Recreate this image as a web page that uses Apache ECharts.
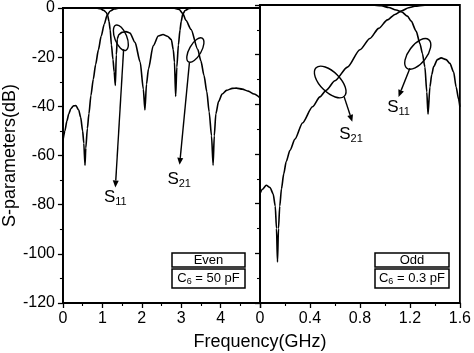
<!DOCTYPE html>
<html>
<head>
<meta charset="utf-8">
<script src="https://cdn.jsdelivr.net/npm/echarts@6/dist/echarts.min.js"></script>
<style>
  html, body { margin: 0; padding: 0; background: #fff; }
  #chart { width: 474px; height: 353px; }
</style>
</head>
<body>
<div id="chart"></div>
<script>
// tick labels
const evenTicks = [0, 1, 2, 3, 4];
const oddTicks = [0, 0.4, 0.8, 1.2, 1.6];
const dbTicks = [0, -20, -40, -60, -80, -100, -120];

// Even mode, C6 = 50 pF  [GHz, dB]
const evenS21 = [
  [0, -54], [0.05, -50], [0.1, -46], [0.15, -43], [0.2, -41], [0.27, -39.8], [0.33, -39.7],
  [0.4, -41.5], [0.45, -44.5], [0.5, -50], [0.53, -55], [0.56, -64], [0.58, -57], [0.62, -49],
  [0.66, -43], [0.71, -35.6], [0.77, -29], [0.83, -23], [0.9, -17], [0.97, -11.5], [1.05, -6.5],
  [1.12, -3], [1.2, -1.2], [1.3, -0.4], [1.45, 0], [2.8, 0], [2.95, -0.6], [3.04, -2.2],
  [3.12, -5], [3.25, -8.7], [3.42, -16.8], [3.5, -21.5], [3.58, -27.5], [3.65, -34], [3.71, -42.3],
  [3.77, -52], [3.81, -64], [3.84, -52], [3.88, -43], [3.95, -38], [4.04, -35], [4.15, -33.5],
  [4.3, -32.7], [4.4, -32.6], [4.55, -33], [4.7, -33.8], [4.85, -35], [5, -36.6]
];
const evenS11 = [
  [0, 0], [0.85, 0], [0.95, -0.3], [1.03, -0.9], [1.1, -1.8], [1.13, -2.8], [1.17, -5.5],
  [1.2, -9], [1.23, -15], [1.27, -21], [1.3, -26], [1.33, -31.5], [1.355, -19], [1.38, -12.5],
  [1.42, -10.8], [1.5, -9.9], [1.6, -9.6], [1.7, -10.2], [1.83, -14], [1.96, -22], [2.04, -33],
  [2.08, -41.5], [2.12, -31], [2.17, -24.8], [2.29, -15.4], [2.42, -11.4], [2.54, -10.8],
  [2.65, -11.5], [2.75, -12.8], [2.8, -17], [2.83, -22], [2.86, -36], [2.89, -24], [2.93, -15],
  [2.97, -9], [3.0, -5.5], [3.04, -2.5], [3.1, -1], [3.2, -0.2], [3.3, 0], [5, 0]
];

// Odd mode, C6 = 0.3 pF  [GHz, dB]
const oddS21 = [
  [0, -76], [0.02, -74.2], [0.05, -72.6], [0.08, -73.5], [0.105, -76], [0.122, -81], [0.132, -90],
  [0.14, -103.5], [0.148, -90], [0.158, -81], [0.172, -74], [0.19, -68], [0.21, -63], [0.24, -58.5],
  [0.28, -54], [0.34, -47.5], [0.42, -41], [0.48, -37], [0.53, -34.3], [0.6, -30.5], [0.7, -25],
  [0.8, -18], [0.88, -13.5], [0.95, -9.4], [1.02, -6], [1.08, -3.8], [1.135, -2.3], [1.19, -1.1],
  [1.24, -0.5], [1.32, -0.1], [1.4, 0], [1.6, 0]
];
const oddS11 = [
  [0, 0], [0.9, 0], [0.97, -0.3], [1.03, -1], [1.09, -2], [1.135, -2.8], [1.18, -4.5], [1.21, -6.5],
  [1.25, -10.5], [1.28, -15.5], [1.3, -19.5], [1.32, -25], [1.335, -35], [1.345, -44], [1.36, -33],
  [1.375, -28], [1.39, -24.8], [1.42, -22], [1.45, -21.3], [1.49, -22], [1.52, -23.5], [1.55, -27],
  [1.57, -33], [1.59, -38], [1.6, -41]
];

const FONT = '"Liberation Sans", Arial, sans-serif';
const chart = echarts.init(document.getElementById('chart'));

function axisBase() {
  return {
    type: 'value',
    axisLine: { show: true, onZero: false, lineStyle: { color: '#000', width: 1.8 } },
    axisTick: { show: true, inside: false, length: 5, lineStyle: { color: '#000', width: 1.3 } },
    minorTick: { show: true, splitNumber: 2, length: 3, lineStyle: { color: '#000', width: 1.1 } },
    splitLine: { show: false },
    axisLabel: { color: '#000', fontSize: 16, fontFamily: FONT, margin: 8 }
  };
}

function lineSeries(name, data, idx) {
  return {
    name: name,
    type: 'line',
    xAxisIndex: idx,
    yAxisIndex: idx,
    data: data,
    showSymbol: false,
    smooth: 0.25,
    smoothMonotone: 'x',
    lineStyle: { color: '#000', width: 1.6 },
    silent: true
  };
}

chart.setOption({
  animation: false,
  grid: [
    { left: 60, top: 5, width: 200, height: 298, show: true, borderColor: '#000', borderWidth: 1.8 },
    { left: 260, top: 5, width: 202, height: 298, show: true, borderColor: '#000', borderWidth: 1.8 }
  ],
  xAxis: [
    Object.assign(axisBase(), {
      gridIndex: 0, min: evenTicks[0], max: 5, interval: evenTicks[1] - evenTicks[0],
      axisLabel: Object.assign(axisBase().axisLabel, { formatter: v => (evenTicks.includes(v) ? String(v) : '') })
    }),
    Object.assign(axisBase(), {
      gridIndex: 1, min: oddTicks[0], max: oddTicks[oddTicks.length - 1], interval: 0.4,
      axisLabel: Object.assign(axisBase().axisLabel, { formatter: v => (v === 0 ? '0' : v.toFixed(1)) })
    })
  ],
  yAxis: [
    Object.assign(axisBase(), {
      gridIndex: 0, min: dbTicks[dbTicks.length - 1], max: dbTicks[0], interval: 20,
      name: 'S-parameters(dB)', nameLocation: 'middle', nameGap: 36,
      nameTextStyle: { color: '#000', fontSize: 18, fontFamily: FONT }
    }),
    Object.assign(axisBase(), {
      gridIndex: 1, min: dbTicks[dbTicks.length - 1], max: dbTicks[0], interval: 20,
      axisLabel: { show: false }
    })
  ],
  series: [
    lineSeries('Even S21', evenS21, 0),
    lineSeries('Even S11', evenS11, 0),
    lineSeries('Odd S21', oddS21, 1),
    lineSeries('Odd S11', oddS11, 1)
  ]
});

// ---- annotations ----
const ctx = document.createElement('canvas').getContext('2d');
function textWidth(t, size) { ctx.font = size + 'px ' + FONT; return ctx.measureText(t).width; }
function px(gi, p) { return chart.convertToPixel({ gridIndex: gi }, p); }

const graphics = [];

function ellipse(gi, at, rx, ry, rot) {
  const c = px(gi, at);
  graphics.push({
    type: 'ellipse', x: c[0], y: c[1], rotation: rot, z: 10,
    shape: { cx: 0, cy: 0, rx: rx, ry: ry },
    style: { fill: 'none', stroke: '#000', lineWidth: 1.4 }
  });
}
function arrow(gi, from, to) {
  const a = px(gi, from), b = px(gi, to);
  const dx = b[0] - a[0], dy = b[1] - a[1], len = Math.hypot(dx, dy);
  const ux = dx / len, uy = dy / len, h = 7, w = 3;
  const bx = b[0] - ux * h, by = b[1] - uy * h;
  graphics.push({
    type: 'line', z: 10, shape: { x1: a[0], y1: a[1], x2: bx, y2: by },
    style: { stroke: '#000', lineWidth: 1.4 }
  });
  graphics.push({
    type: 'polygon', z: 10,
    shape: { points: [[b[0], b[1]], [bx - uy * w, by + ux * w], [bx + uy * w, by - ux * w]] },
    style: { fill: '#000' }
  });
}
// text with a subscript, centred on (cx, cy)
function subLabel(cx, cy, main, sub, size, subSize, rest) {
  const w1 = textWidth(main, size), w2 = textWidth(sub, subSize), w3 = rest ? textWidth(rest, size) : 0;
  let x = cx - (w1 + w2 + w3) / 2;
  graphics.push({ type: 'text', z: 11, x: x, y: cy,
    style: { text: main, fontSize: size, fontFamily: FONT, fill: '#000', verticalAlign: 'middle' } });
  x += w1;
  graphics.push({ type: 'text', z: 11, x: x, y: cy + size * 0.28,
    style: { text: sub, fontSize: subSize, fontFamily: FONT, fill: '#000', verticalAlign: 'middle' } });
  x += w2;
  if (rest) {
    graphics.push({ type: 'text', z: 11, x: x, y: cy,
      style: { text: rest, fontSize: size, fontFamily: FONT, fill: '#000', verticalAlign: 'middle' } });
  }
}
function labelAt(gi, at, main, sub) {
  const c = px(gi, at);
  subLabel(c[0], c[1], main, sub, 17, 11);
}
function caseBox(x, w, title, capVal) {
  graphics.push({ type: 'rect', z: 10, shape: { x: x, y: 253, width: w, height: 14 },
    style: { fill: '#fff', stroke: '#000', lineWidth: 1.5 } });
  graphics.push({ type: 'rect', z: 10, shape: { x: x, y: 269, width: w, height: 19 },
    style: { fill: '#fff', stroke: '#000', lineWidth: 1.5 } });
  graphics.push({ type: 'text', z: 11, x: x + w / 2, y: 260.5,
    style: { text: title, fontSize: 13, fontFamily: FONT, fill: '#000', align: 'center', verticalAlign: 'middle' } });
  subLabel(x + w / 2, 278, 'C', '6', 13, 9, ' = ' + capVal);
}

// Even panel
ellipse(0, [1.47, -12.1], 6, 13.5, 0.38);
arrow(0, [1.54, -16.8], [1.33, -73]);
labelAt(0, [1.33, -77], 'S', '11');
ellipse(0, [3.36, -17.1], 6, 13.7, -0.52);
arrow(0, [3.21, -22.1], [2.96, -63.8]);
labelAt(0, [2.95, -69.5], 'S', '21');
// Odd panel
ellipse(1, [0.562, -31], 20, 10, -0.785);
arrow(1, [0.673, -36.9], [0.739, -47]);
labelAt(1, [0.729, -52.2], 'S', '21');
ellipse(1, [1.263, -19.7], 9, 18, -0.65);
arrow(1, [1.2, -25.5], [1.109, -37]);
labelAt(1, [1.109, -41], 'S', '11');

caseBox(172, 73, 'Even', '50 pF');
caseBox(375, 74, 'Odd', '0.3 pF');

graphics.push({ type: 'text', z: 11, x: 260, y: 342,
  style: { text: 'Frequency(GHz)', fontSize: 18, fontFamily: FONT, fill: '#000', align: 'center', verticalAlign: 'middle' } });

chart.setOption({ graphic: graphics });
</script>
</body>
</html>
